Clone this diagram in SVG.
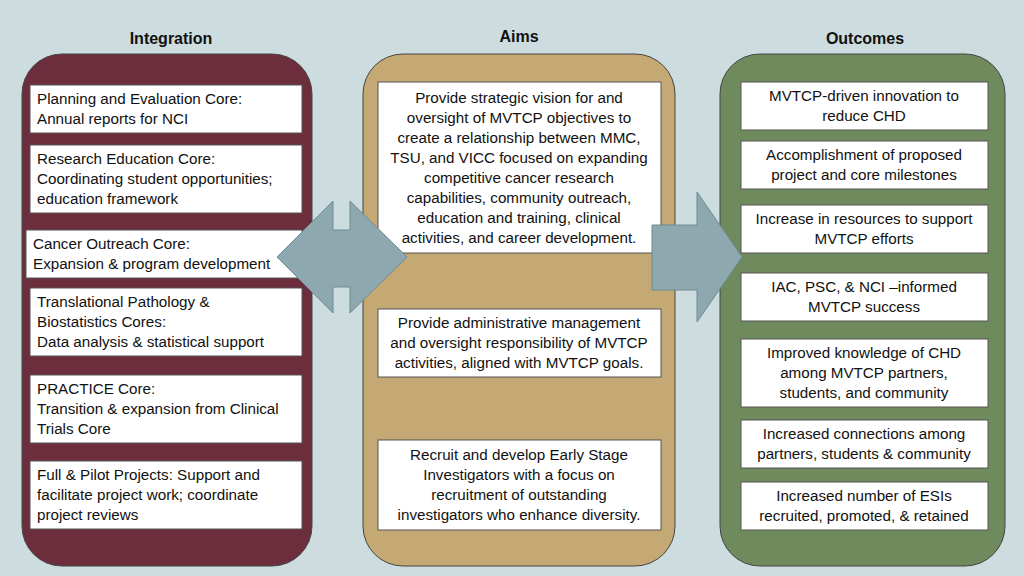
<svg xmlns="http://www.w3.org/2000/svg" width="1024" height="576" viewBox="0 0 1024 576">
<style>
.t{font-family:"Liberation Sans",Arial,sans-serif;font-size:15.2px;fill:#111}
.c{text-anchor:middle}
.h{font-family:"Liberation Sans",Arial,sans-serif;font-size:16px;font-weight:bold;text-anchor:middle;fill:#111}
.b{fill:#fff;stroke:#555;stroke-width:1}
.a{fill:#8ea8b0;stroke:#6e8a93;stroke-width:1}
</style>
<rect width="1024" height="576" fill="#cddcdf"/>
<text class="h" x="171" y="44">Integration</text>
<text class="h" x="519" y="42">Aims</text>
<text class="h" x="865" y="44">Outcomes</text>
<g id="integration">
<rect x="22" y="54" width="290" height="512" rx="40" fill="#6c2e3d" stroke="#444"/>
<rect class="b" x="30" y="85" width="272" height="48"/>
<text class="t" x="37" y="104">Planning and Evaluation Core:</text><text class="t" x="37" y="124">Annual reports for NCI</text>
<rect class="b" x="30" y="145" width="272" height="68"/>
<text class="t" x="37" y="164">Research Education Core:</text><text class="t" x="37" y="184">Coordinating student opportunities;</text><text class="t" x="37" y="204">education framework</text>
<rect class="b" x="26" y="230" width="276" height="48"/>
<text class="t" x="33" y="249">Cancer Outreach Core:</text><text class="t" x="33" y="269">Expansion &amp; program development</text>
<rect class="b" x="30" y="288" width="272" height="68"/>
<text class="t" x="37" y="307">Translational Pathology &amp;</text><text class="t" x="37" y="327">Biostatistics Cores:</text><text class="t" x="37" y="347">Data analysis &amp; statistical support</text>
<rect class="b" x="30" y="375" width="272" height="68"/>
<text class="t" x="37" y="394">PRACTICE Core:</text><text class="t" x="37" y="414">Transition &amp; expansion from Clinical</text><text class="t" x="37" y="434">Trials Core</text>
<rect class="b" x="30" y="461" width="272" height="68"/>
<text class="t" x="37" y="480">Full &amp; Pilot Projects: Support and</text><text class="t" x="37" y="500">facilitate project work; coordinate</text><text class="t" x="37" y="520">project reviews</text>
</g>
<g id="aims">
<rect x="363" y="54" width="312" height="512" rx="40" fill="#c4a974" stroke="#444"/>
<rect class="b" x="378" y="82" width="283" height="171"/>
<g class="t c"><text x="519" y="103">Provide strategic vision for and</text><text x="519" y="123">oversight of MVTCP objectives to</text><text x="519" y="143">create a relationship between MMC,</text><text x="519" y="163">TSU, and VICC focused on expanding</text><text x="519" y="183">competitive cancer research</text><text x="519" y="203">capabilities, community outreach,</text><text x="519" y="223">education and training, clinical</text><text x="519" y="243">activities, and career development.</text></g>
<rect class="b" x="378" y="309" width="283" height="68"/>
<g class="t c"><text x="519" y="328">Provide administrative management</text><text x="519" y="348">and oversight responsibility of MVTCP</text><text x="519" y="368">activities, aligned with MVTCP goals.</text></g>
<rect class="b" x="378" y="440" width="283" height="90"/>
<g class="t c"><text x="519" y="460">Recruit and develop Early Stage</text><text x="519" y="480">Investigators with a focus on</text><text x="519" y="500">recruitment of outstanding</text><text x="519" y="520">investigators who enhance diversity.</text></g>
</g>
<g id="outcomes">
<rect x="720" y="54" width="285" height="512" rx="40" fill="#6f8a5c" stroke="#444"/>
<g class="t c">
<rect class="b" x="741" y="82" width="247" height="48"/><text x="864" y="101">MVTCP-driven innovation to</text><text x="864" y="121">reduce CHD</text>
<rect class="b" x="741" y="141" width="247" height="48"/><text x="864" y="160">Accomplishment of proposed</text><text x="864" y="180">project and core milestones</text>
<rect class="b" x="741" y="205" width="247" height="48"/><text x="864" y="224">Increase in resources to support</text><text x="864" y="244">MVTCP efforts</text>
<rect class="b" x="741" y="273" width="247" height="48"/><text x="864" y="292">IAC, PSC, &amp; NCI –informed</text><text x="864" y="312">MVTCP success</text>
<rect class="b" x="741" y="339" width="247" height="68"/><text x="864" y="358">Improved knowledge of CHD</text><text x="864" y="378">among MVTCP partners,</text><text x="864" y="398">students, and community</text>
<rect class="b" x="741" y="420" width="247" height="48"/><text x="864" y="439">Increased connections among</text><text x="864" y="459">partners, students &amp; community</text>
<rect class="b" x="741" y="482" width="247" height="48"/><text x="864" y="501">Increased number of ESIs</text><text x="864" y="521">recruited, promoted, &amp; retained</text>
</g>
</g>
<g id="connectors">
<path class="a" d="M277,257 L333,201 L333,230 L350,230 L350,201 L407,257 L350,313 L350,287 L333,287 L333,313 Z"/>
<path class="a" d="M652,225 L697,225 L697,192 L742,257 L697,322 L697,290 L652,290 Z"/>
</g>
</svg>
